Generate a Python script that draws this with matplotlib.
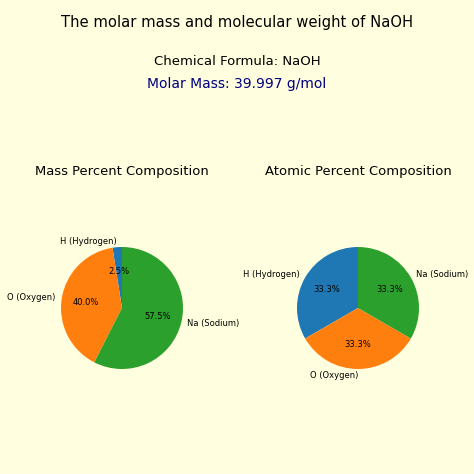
import matplotlib
matplotlib.use('Agg')
import matplotlib.pyplot as plt

# ── data ─────────────────────────────────────────────
labels = ['H (Hydrogen)', 'O (Oxygen)', 'Na (Sodium)']
mass_pct = [2.5, 40.0, 57.5]
atom_counts = [1, 1, 1]
colors = ['#1f77b4', '#ff7f0e', '#2ca02c']

formula = 'NaOH'
molar_mass = 39.997

bg = '#FFFFE0'

# ── figure ───────────────────────────────────────────
fig = plt.figure(figsize=(4.74, 4.74), dpi=100, facecolor=bg)

fig.text(0.5, 0.953, f'The molar mass and molecular weight of {formula}',
         ha='center', va='center', fontsize=10.6)
fig.text(0.5, 0.871, f'Chemical Formula: {formula}',
         ha='center', va='center', fontsize=9.5)
fig.text(0.5, 0.822, f'Molar Mass: {molar_mass} g/mol',
         ha='center', va='center', fontsize=10, color='navy')

size = 152.5 / 474
ax1 = fig.add_axes([122 / 474 - size / 2, 1 - 308 / 474 - size / 2, size, size])
ax2 = fig.add_axes([358 / 474 - size / 2, 1 - 308 / 474 - size / 2, size, size])

for ax, vals in [(ax1, mass_pct), (ax2, atom_counts)]:
    ax.set_facecolor(bg)
    wedges, texts, autotexts = ax.pie(vals, labels=labels, colors=colors,
                                      autopct='%1.1f%%', startangle=90,
                                      textprops={'fontsize': 6})
    ax.set_xlim(-1.25, 1.25)
    ax.set_ylim(-1.25, 1.25)
    ax.set_aspect('equal')
    if ax is ax2:
        texts[1].set_ha('right')

fig.text(122 / 474, 1 - 172 / 474, 'Mass Percent Composition',
         ha='center', va='center', fontsize=9.45)
fig.text(358 / 474, 1 - 172 / 474, 'Atomic Percent Composition',
         ha='center', va='center', fontsize=9.45)

plt.savefig('out.png', dpi=100, facecolor=bg)
